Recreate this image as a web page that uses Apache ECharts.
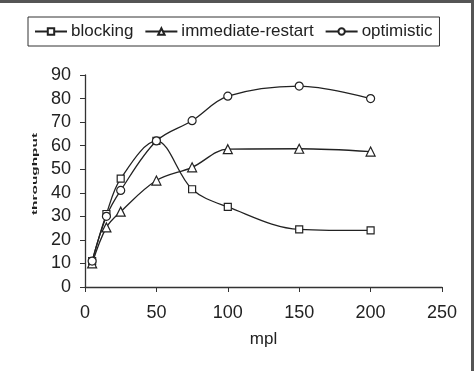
<!DOCTYPE html>
<html>
<head>
<meta charset="utf-8">
<script src="https://cdn.jsdelivr.net/npm/echarts@6/dist/echarts.min.js"></script>
<style>html,body{margin:0;padding:0;background:#fff}#c{width:474px;height:371px}</style>
</head>
<body>
<div id="c"></div>
<script>
const mpl = [5, 15, 25, 50, 75, 100, 150, 200];
const blocking = [11, 31, 46, 62, 41.5, 34, 24.5, 24];
const immediateRestart = [10, 25.3, 32, 45.2, 50.8, 58.5, 58.7, 57.5];
const optimistic = [11, 30, 41, 62, 70.6, 81, 85.3, 80];
const seriesNames = ['blocking', 'immediate-restart', 'optimistic'];
const xTicks = [0, 50, 100, 150, 200, 250];
const yTicks = [0, 10, 20, 30, 40, 50, 60, 70, 80, 90];
const xName = 'mpl';
const yName = 'throughput';

const pair = (xs, ys) => xs.map((x, i) => [x, ys[i]]);
const font = 'Liberation Sans, Arial, sans-serif';
const ink = '#222';
function mk(name, data, symbol, size) {
  return {
    name, type: 'line', data, smooth: 0.35, symbol, symbolSize: size,
    lineStyle: {color: ink, width: 1.3},
    itemStyle: {color: '#fff', borderColor: ink, borderWidth: 1.2},
    emphasis: {disabled: true}, animation: false
  };
}
const chart = echarts.init(document.getElementById('c'));
chart.setOption({
  backgroundColor: '#fff',
  animation: false,
  legend: {
    top: 17, left: 28, width: 430,
    data: seriesNames,
    borderColor: '#333', borderWidth: 1,
    padding: [6, 7, 6, 6],
    itemWidth: 32, itemHeight: 8, itemGap: 11,
    textStyle: {fontFamily: font, fontSize: 17, color: ink, padding: [0, 0, 0, -1]}
  },
  grid: {left: 85, right: 32, top: 75, bottom: 84, containLabel: false},
  xAxis: {
    type: 'value', min: xTicks[0], max: xTicks[xTicks.length - 1], interval: 50,
    name: xName, nameLocation: 'middle', nameGap: 44,
    nameTextStyle: {fontFamily: font, fontSize: 17, color: ink},
    axisLine: {lineStyle: {color: '#333', width: 1.3}},
    axisTick: {show: true, length: 5, lineStyle: {color: '#333'}},
    axisLabel: {fontFamily: font, fontSize: 18, color: ink, margin: 17},
    splitLine: {show: false}
  },
  yAxis: {
    type: 'value', min: yTicks[0], max: yTicks[yTicks.length - 1], interval: 10,
    axisLine: {show: true, lineStyle: {color: '#333', width: 1.3}},
    axisTick: {show: true, length: 5, lineStyle: {color: '#333'}},
    axisLabel: {fontFamily: font, fontSize: 18, color: ink, margin: 14},
    splitLine: {show: false}
  },
  graphic: [
    {type: 'rect', shape: {x: 0, y: 0, width: 474, height: 3}, style: {fill: '#555'}, silent: true},
    {type: 'rect', shape: {x: 471, y: 0, width: 3, height: 371}, style: {fill: '#555'}, silent: true},
    {type: 'text', x: 35, y: 174, rotation: Math.PI / 2, scaleX: 1.1, scaleY: 0.5,
     style: {text: yName, font: 'bold 14px ' + font, fill: ink, align: 'center', verticalAlign: 'middle'}, silent: true}
  ],
  series: [
    mk(seriesNames[0], pair(mpl, blocking), 'rect', 7),
    mk(seriesNames[1], pair(mpl, immediateRestart), 'triangle', 9),
    mk(seriesNames[2], pair(mpl, optimistic), 'circle', 8)
  ]
});
</script>
</body>
</html>
